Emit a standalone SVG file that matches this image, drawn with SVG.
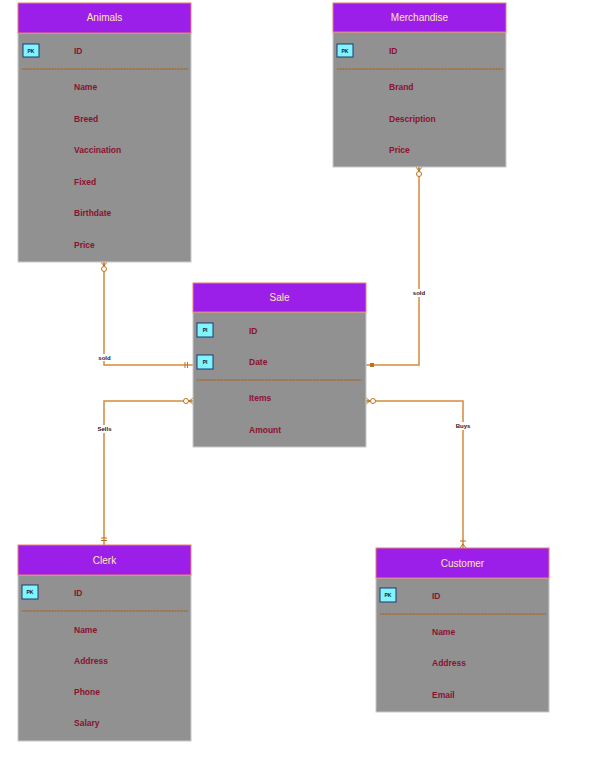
<svg xmlns="http://www.w3.org/2000/svg" width="590" height="770" viewBox="0 0 590 770">
<style>
.hdr{fill:#9b1fe9;stroke:#e8806a;stroke-width:1}
.body{fill:#919191;stroke:#c8c8c8;stroke-width:1}
.ht{font-family:"Liberation Sans",Arial,sans-serif;font-size:10px;fill:#ffe8b0;text-anchor:middle}
.at{font-family:"Liberation Sans",Arial,sans-serif;font-size:8.5px;font-weight:bold;fill:#8b1230}
.sep{stroke:#a8682a;stroke-width:1.5;stroke-dasharray:1 0.5}
.ic{fill:#80f4ff;stroke:#1a3a70;stroke-width:1}
.it{font-family:"Liberation Sans",Arial,sans-serif;font-size:5px;font-weight:bold;fill:#102040;text-anchor:middle}
.cn{fill:none;stroke:#d48a3c;stroke-width:1.5}
.mk{fill:none;stroke:#c07020;stroke-width:1}
.mc{fill:#fff;stroke:#c07020;stroke-width:1}
.lb{font-family:"Liberation Sans",Arial,sans-serif;font-size:6px;font-weight:bold;fill:#301020;text-anchor:middle}
</style>
<rect width="590" height="770" fill="#fff"/>
<g id="connectors">
  <!-- Animals - Sale -->
  <path class="cn" d="M104,262 V365 H193"/>
  <path class="mk" d="M101,262 L104,266 L107,262 M104,262 V266"/>
  <circle class="mc" cx="104" cy="269" r="2.5"/>
  <path class="mk" d="M185,362 V368 M187.5,362 V368"/>
  <rect x="98" y="354" width="13" height="7" fill="#fff"/>
  <text class="lb" x="104.5" y="359.5">sold</text>
  <!-- Merchandise - Sale -->
  <path class="cn" d="M419,167 V365 H366"/>
  <path class="mk" d="M416,167 L419,171 L422,167 M419,167 V171"/>
  <circle class="mc" cx="419" cy="174" r="2.5"/>
  <rect x="370" y="363" width="4" height="4" fill="#c07020"/>
  <rect x="412" y="289" width="14" height="8" fill="#fff"/>
  <text class="lb" x="419" y="295">sold</text>
  <!-- Sale - Clerk -->
  <path class="cn" d="M193,401 H104 V545"/>
  <path class="mk" d="M193,398 L189,401 L193,404 M193,401 H189"/>
  <circle class="mc" cx="186" cy="401" r="2.5"/>
  <path class="mk" d="M101,538 H107 M101,540.5 H107"/>
  <rect x="96" y="425" width="17" height="8" fill="#fff"/>
  <text class="lb" x="104.5" y="431">Sells</text>
  <!-- Sale - Customer -->
  <path class="cn" d="M366,401 H463 V548"/>
  <path class="mk" d="M366,398 L370,401 L366,404 M366,401 H370"/>
  <circle class="mc" cx="373" cy="401" r="2.5"/>
  <path class="mk" d="M460,541 H466 M460,548 L463,544 L466,548"/>
  <rect x="455" y="422" width="16" height="8" fill="#fff"/>
  <text class="lb" x="463" y="428">Buys</text>
</g>
<g id="animals">
  <rect class="body" x="18" y="33" width="173" height="229"/>
  <rect class="hdr" x="18" y="3" width="173" height="30"/>
  <text class="ht" x="104.5" y="21">Animals</text>
  <rect class="ic" x="23" y="44" width="16" height="13"/><text class="it" x="31" y="52.5">PK</text>
  <text class="at" x="74" y="54">ID</text>
  <line class="sep" x1="22" y1="69" x2="188" y2="69"/>
  <text class="at" x="74" y="90">Name</text>
  <text class="at" x="74" y="122">Breed</text>
  <text class="at" x="74" y="153">Vaccination</text>
  <text class="at" x="74" y="185">Fixed</text>
  <text class="at" x="74" y="216">Birthdate</text>
  <text class="at" x="74" y="248">Price</text>
</g>
<g id="merchandise">
  <rect class="body" x="333" y="32" width="173" height="135"/>
  <rect class="hdr" x="333" y="3" width="173" height="29"/>
  <text class="ht" x="419.5" y="21">Merchandise</text>
  <rect class="ic" x="337" y="44" width="16" height="13"/><text class="it" x="345" y="52.5">PK</text>
  <text class="at" x="389" y="54">ID</text>
  <line class="sep" x1="337" y1="69" x2="503" y2="69"/>
  <text class="at" x="389" y="90">Brand</text>
  <text class="at" x="389" y="122">Description</text>
  <text class="at" x="389" y="153">Price</text>
</g>
<g id="sale">
  <rect class="body" x="193" y="312" width="173" height="135"/>
  <rect class="hdr" x="193" y="283" width="173" height="29"/>
  <text class="ht" x="279.5" y="301">Sale</text>
  <rect class="ic" x="197" y="323" width="16" height="14"/><text class="it" x="205" y="332">PI</text>
  <text class="at" x="249" y="334">ID</text>
  <rect class="ic" x="197" y="355" width="16" height="14"/><text class="it" x="205" y="364">PI</text>
  <text class="at" x="249" y="365">Date</text>
  <line class="sep" x1="197" y1="380" x2="362" y2="380"/>
  <text class="at" x="249" y="401">Items</text>
  <text class="at" x="249" y="433">Amount</text>
</g>
<g id="clerk">
  <rect class="body" x="18" y="575" width="173" height="166"/>
  <rect class="hdr" x="18" y="545" width="173" height="30"/>
  <text class="ht" x="104.5" y="564">Clerk</text>
  <rect class="ic" x="22" y="585" width="16" height="14"/><text class="it" x="30" y="594">PK</text>
  <text class="at" x="74" y="596">ID</text>
  <line class="sep" x1="22" y1="611" x2="188" y2="611"/>
  <text class="at" x="74" y="633">Name</text>
  <text class="at" x="74" y="664">Address</text>
  <text class="at" x="74" y="695">Phone</text>
  <text class="at" x="74" y="726">Salary</text>
</g>
<g id="customer">
  <rect class="body" x="376" y="578" width="173" height="134"/>
  <rect class="hdr" x="376" y="548" width="173" height="30"/>
  <text class="ht" x="462.5" y="567">Customer</text>
  <rect class="ic" x="380" y="588" width="16" height="14"/><text class="it" x="388" y="597">PK</text>
  <text class="at" x="432" y="599">ID</text>
  <line class="sep" x1="380" y1="614" x2="546" y2="614"/>
  <text class="at" x="432" y="635">Name</text>
  <text class="at" x="432" y="666">Address</text>
  <text class="at" x="432" y="698">Email</text>
</g>
</svg>
